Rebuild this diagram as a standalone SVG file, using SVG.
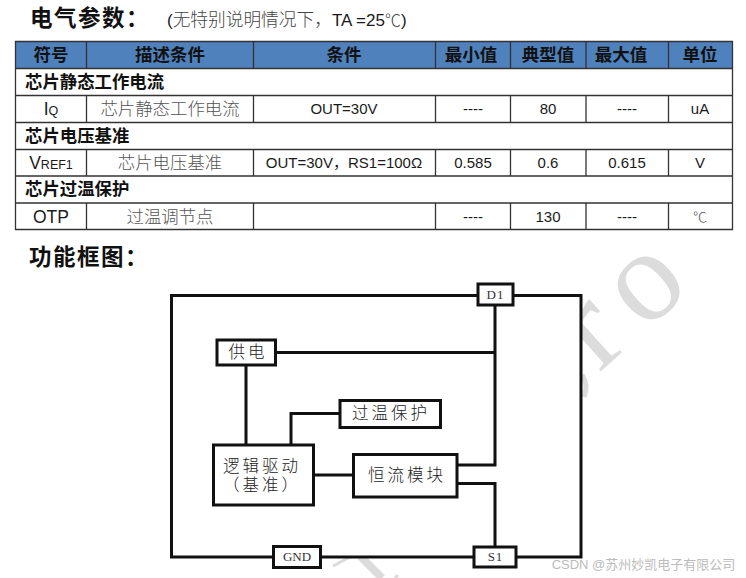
<svg xmlns="http://www.w3.org/2000/svg" width="746" height="578" viewBox="0 0 746 578">
<style>
text{font-family:"Liberation Sans","Noto Sans CJK SC",sans-serif;fill:#1a1a1a;text-anchor:middle}
.title{font-size:22.5px;letter-spacing:1.5px;font-weight:700;text-anchor:start;font-family:"Noto Sans CJK SC",sans-serif;fill:#111}
.sub{font-size:17px;text-anchor:start}
.th{font-size:17.5px;font-weight:700;font-family:"Noto Sans CJK SC",sans-serif;fill:#111}
.sec{font-size:17.4px;font-weight:700;text-anchor:start;font-family:"Noto Sans CJK SC",sans-serif;fill:#111}
.cn{font-size:17.4px;font-weight:300;font-family:"Noto Sans CJK SC",sans-serif;fill:#555}
.v{font-size:15px}
.s{font-size:17.5px}
.grid{stroke:#333;stroke-width:1.3;fill:none}
.box{fill:#fff;stroke:#111;stroke-width:3}
.wire{fill:none;stroke:#111;stroke-width:3}
.d{font-size:16.5px;font-weight:300;font-family:"Noto Sans CJK SC",serif;fill:#222;letter-spacing:3px}
.p{font-size:13px;font-family:"Liberation Serif",serif;fill:#333}
.wm{fill:none;stroke:#dcdcdc}
</style>
<rect width="746" height="578" fill="#fff"/>
<g id="watermark">
<text x="0" y="0" transform="translate(599 373) rotate(-42)" style="font-family:'Liberation Serif',serif;font-size:130px;letter-spacing:18px;fill:#dcdcdc;text-anchor:start">ro</text>
<path class="wm" stroke-width="5" d="M582 375Q589 385 584 397"/>
<path class="wm" stroke-width="8" d="M360 556L382 578"/>
<path class="wm" stroke-width="3" d="M333 566L352 556M395 578L398 575"/>
</g>
<g id="header-table">
<rect x="15.5" y="41.5" width="717" height="27" fill="#4f81bd"/>
<path class="grid" d="M15.5 41.5H732.5V229.5H15.5ZM15.5 68.5H732.5M15.5 95.5H732.5M15.5 122.5H732.5M15.5 149.5H732.500M15.5 176H732.5M15.5 203H732.5"/>
<path class="grid" d="M86.5 41.5V68.5M86.5 95.5V122.5M86.5 149.5V176M86.5 203V229.5M253.5 41.5V68.5M253.5 95.5V122.5M253.5 149.5V176M253.5 203V229.5M435.5 41.5V68.5M435.5 95.5V122.5M435.5 149.5V176M435.5 203V229.5M510.5 41.5V68.5M510.5 95.5V122.5M510.5 149.5V176M510.5 203V229.5M586 41.5V68.5M586 95.5V122.5M586 149.5V176M586 203V229.5M668.5 41.5V68.5M668.5 95.5V122.5M668.5 149.5V176M668.5 203V229.5"/>
<text class="title" x="30" y="25.500">电气参数：</text>
<text class="sub" x="167" y="25.500">(<tspan font-size="17.7" style="font-family:'Noto Sans CJK SC';font-weight:300" fill="#444">无特别说明情况下，</tspan>TA =25<tspan font-size="16" style="font-family:'Noto Sans CJK SC';font-weight:300" fill="#444">℃</tspan>)</text>
<text class="th" x="51" y="61">符号</text><text class="th" x="170" y="61">描述条件</text><text class="th" x="344" y="61">条件</text><text class="th" x="471" y="61">最小值</text><text class="th" x="548" y="61">典型值</text><text class="th" x="621" y="61">最大值</text><text class="th" x="700" y="61">单位</text>
<text class="sec" x="25" y="88">芯片静态工作电流</text>
<text class="s" x="51" y="115">I<tspan font-size="12.500">Q</tspan></text><text class="cn" x="170" y="115">芯片静态工作电流</text><text class="v" x="344" y="114">OUT=30V</text><text class="v" x="473" y="114">----</text><text class="v" x="548" y="114">80</text><text class="v" x="627" y="114">----</text><text class="v" x="700" y="114">uA</text>
<text class="sec" x="25" y="142">芯片电压基准</text>
<text class="s" x="51" y="169">V<tspan font-size="12.500">REF1</tspan></text><text class="cn" x="170" y="169">芯片电压基准</text><text class="v" x="344" y="168">OUT=30V，RS1=100Ω</text><text class="v" x="473" y="168">0.585</text><text class="v" x="548" y="168">0.6</text><text class="v" x="627" y="168">0.615</text><text class="v" x="700" y="168">V</text>
<text class="sec" x="25" y="195">芯片过温保护</text>
<text class="s" x="51" y="223">OTP</text><text class="cn" x="170" y="223">过温调节点</text><text class="v" x="473" y="222">----</text><text class="v" x="548" y="222">130</text><text class="v" x="627" y="222">----</text><text x="700" y="222" style="font-size:14px;font-weight:300;font-family:'Noto Sans CJK SC';fill:#555">℃</text>
<text class="title" x="29" y="264.500">功能框图：</text>
</g>
<rect id="chip" x="171.500" y="295.500" width="409.500" height="261.500" class="box"/>
<g id="connectors">
<path class="wire" d="M495 305V465H457M276 352.500H495M457 483.500H495V546M246 365V444M291 444V413.500H339M313 475H353"/>
</g>
<g id="D1"><rect class="box" x="478" y="284" width="35" height="21"/><text class="p" x="495.500" y="299" letter-spacing="1">D1</text></g>
<g id="S1"><rect class="box" x="474" y="547" width="42" height="20"/><text class="p" x="495.500" y="561" letter-spacing="1">S1</text></g>
<g id="GND"><rect class="box" x="273.500" y="546.500" width="47" height="21"/><text class="p" x="297" y="561">GND</text></g>
<g id="power"><rect class="box" x="217" y="340" width="58.500" height="25"/><text class="d" x="248" y="358">供电</text></g>
<g id="otp"><rect class="box" x="340" y="400.500" width="100.500" height="27"/><text class="d" x="391" y="419">过温保护</text></g>
<g id="logic"><rect class="box" x="213.500" y="445" width="100" height="60"/><text class="d"><tspan x="262" y="472">逻辑驱动</tspan><tspan x="262" y="491">（基准）</tspan></text></g>
<g id="cc"><rect class="box" x="353.500" y="454.500" width="103.500" height="42.500"/><text class="d" x="407" y="481">恒流模块</text></g>
<text id="credit" x="643.500" y="569" style="font-size:13px;fill:#bbb">CSDN @苏州妙凯电子有限公司</text>
</svg>
